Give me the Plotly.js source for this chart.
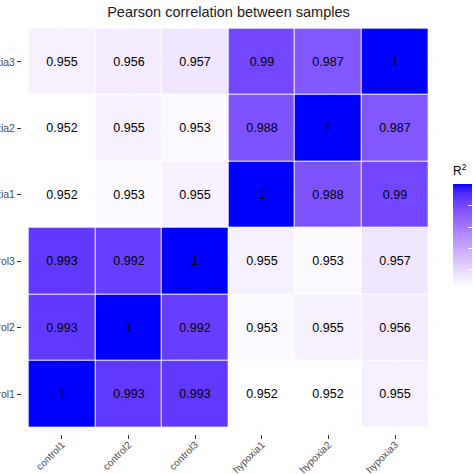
<!DOCTYPE html>
<html>
<head>
<meta charset="utf-8">
<script src="https://cdn.plot.ly/plotly-3.0.1.min.js"></script>
<style>
  html, body { margin: 0; padding: 0; background: #fff; }
  #chart { width: 474px; height: 474px; }
</style>
</head>
<body>
<div id="chart"></div>
<script>
// Sample names (x left-to-right, y bottom-to-top)
const samples = ["control1", "control2", "control3", "hypoxia1", "hypoxia2", "hypoxia3"];

// Pearson R^2 per row (row = y sample, columns follow `samples`)
const rowControl1 = [1, 0.993, 0.993, 0.952, 0.952, 0.955];
const rowControl2 = [0.993, 1, 0.992, 0.953, 0.955, 0.956];
const rowControl3 = [0.993, 0.992, 1, 0.955, 0.953, 0.957];
const rowHypoxia1 = [0.952, 0.953, 0.955, 1, 0.988, 0.99];
const rowHypoxia2 = [0.952, 0.955, 0.953, 0.988, 1, 0.987];
const rowHypoxia3 = [0.955, 0.956, 0.957, 0.99, 0.987, 1];

const zRows = [rowControl1, rowControl2, rowControl3, rowHypoxia1, rowHypoxia2, rowHypoxia3];

// White -> blue gradient interpolated in CIELAB space
function rgbToLab(r, g, b) {
  const lin = c => { c /= 255; return c <= 0.04045 ? c / 12.92 : Math.pow((c + 0.055) / 1.055, 2.4); };
  const R = lin(r), G = lin(g), B = lin(b);
  let X = (R * 0.4124 + G * 0.3576 + B * 0.1805) / 0.95047;
  let Y = (R * 0.2126 + G * 0.7152 + B * 0.0722);
  let Z = (R * 0.0193 + G * 0.1192 + B * 0.9505) / 1.08883;
  const f = t => t > 0.008856 ? Math.cbrt(t) : (7.787 * t + 16 / 116);
  X = f(X); Y = f(Y); Z = f(Z);
  return [116 * Y - 16, 500 * (X - Y), 200 * (Y - Z)];
}
function labToRgb(L, a, b) {
  let Y = (L + 16) / 116, X = a / 500 + Y, Z = Y - b / 200;
  const fi = t => t * t * t > 0.008856 ? t * t * t : (t - 16 / 116) / 7.787;
  X = fi(X) * 0.95047; Y = fi(Y); Z = fi(Z) * 1.08883;
  let R = X * 3.2406 + Y * -1.5372 + Z * -0.4986;
  let G = X * -0.9689 + Y * 1.8758 + Z * 0.0415;
  let B = X * 0.0557 + Y * -0.2040 + Z * 1.0570;
  const g = c => { c = c <= 0.0031308 ? 12.92 * c : 1.055 * Math.pow(c, 1 / 2.4) - 0.055; return Math.max(0, Math.min(255, Math.round(c * 255))); };
  return `rgb(${g(R)},${g(G)},${g(B)})`;
}
const labLow = rgbToLab(255, 255, 255), labHigh = rgbToLab(0, 0, 255);
const colorscale = [];
for (let i = 0; i <= 20; i++) {
  const t = i / 20;
  colorscale.push([t, labToRgb(
    labLow[0] + (labHigh[0] - labLow[0]) * t,
    labLow[1] + (labHigh[1] - labLow[1]) * t,
    labLow[2] + (labHigh[2] - labLow[2]) * t)]);
}

const allVals = zRows.flat();
const zMin = Math.min(...allVals), zMax = Math.max(...allVals);

const trace = {
  type: "heatmap",
  x: samples,
  y: samples,
  z: zRows,
  zmin: zMin,
  zmax: zMax,
  colorscale: colorscale,
  xgap: 1,
  ygap: 1,
  texttemplate: "%{z}",
  textfont: { family: "Liberation Sans, Arial, sans-serif", size: 12.5, color: "#000" },
  hoverinfo: "skip",
  colorbar: {
    title: { text: "R<sup>2</sup>", side: "top", font: { family: "Liberation Sans, Arial, sans-serif", size: 12, color: "#000" } },
    x: 1.0436, xanchor: "left",
    y: 0.507, yanchor: "middle",
    thickness: 19,
    len: 124, lenmode: "pixels",
    outlinewidth: 0,
    xpad: 0, ypad: 0,
    ticks: "inside", ticklen: 4, tickcolor: "#fff", tickwidth: 1,
    tickvals: [0.96, 0.97, 0.98, 0.99, 1.0],
    tickfont: { family: "Liberation Sans, Arial, sans-serif", size: 10, color: "#4d4d4d" }
  }
};

const axisCommon = {
  type: "category",
  range: [-0.6, 5.6],
  showgrid: true,
  gridcolor: "#efefef",
  gridwidth: 0.5,
  zeroline: false,
  showline: false,
  ticks: "outside",
  ticklen: 4,
  tickwidth: 1,
  tickcolor: "#333",
  tickfont: { family: "Liberation Sans, Arial, sans-serif", size: 10.5, color: "#4d4d4d" },
  automargin: false,
  fixedrange: true
};

const layout = {
  width: 474,
  height: 474,
  margin: { l: 22, r: 39, t: 22, b: 40, autoexpand: false },
  paper_bgcolor: "#fff",
  plot_bgcolor: "#fff",
  title: {
    text: "Pearson correlation between samples",
    font: { family: "Liberation Sans, Arial, sans-serif", size: 14.5, color: "#1a1a1a" },
    x: 0.482, xanchor: "center",
    y: 0.975, yanchor: "middle"
  },
  xaxis: Object.assign({}, axisCommon, {
    tickangle: -45, ticklabelstandoff: -4,
    tickfont: { family: "Liberation Sans, Arial, sans-serif", size: 10, color: "#4d4d4d" }
  }),
  yaxis: Object.assign({}, axisCommon),
  showlegend: false
};

Plotly.newPlot("chart", [trace], layout, { displayModeBar: false, staticPlot: true });
</script>
</body>
</html>
